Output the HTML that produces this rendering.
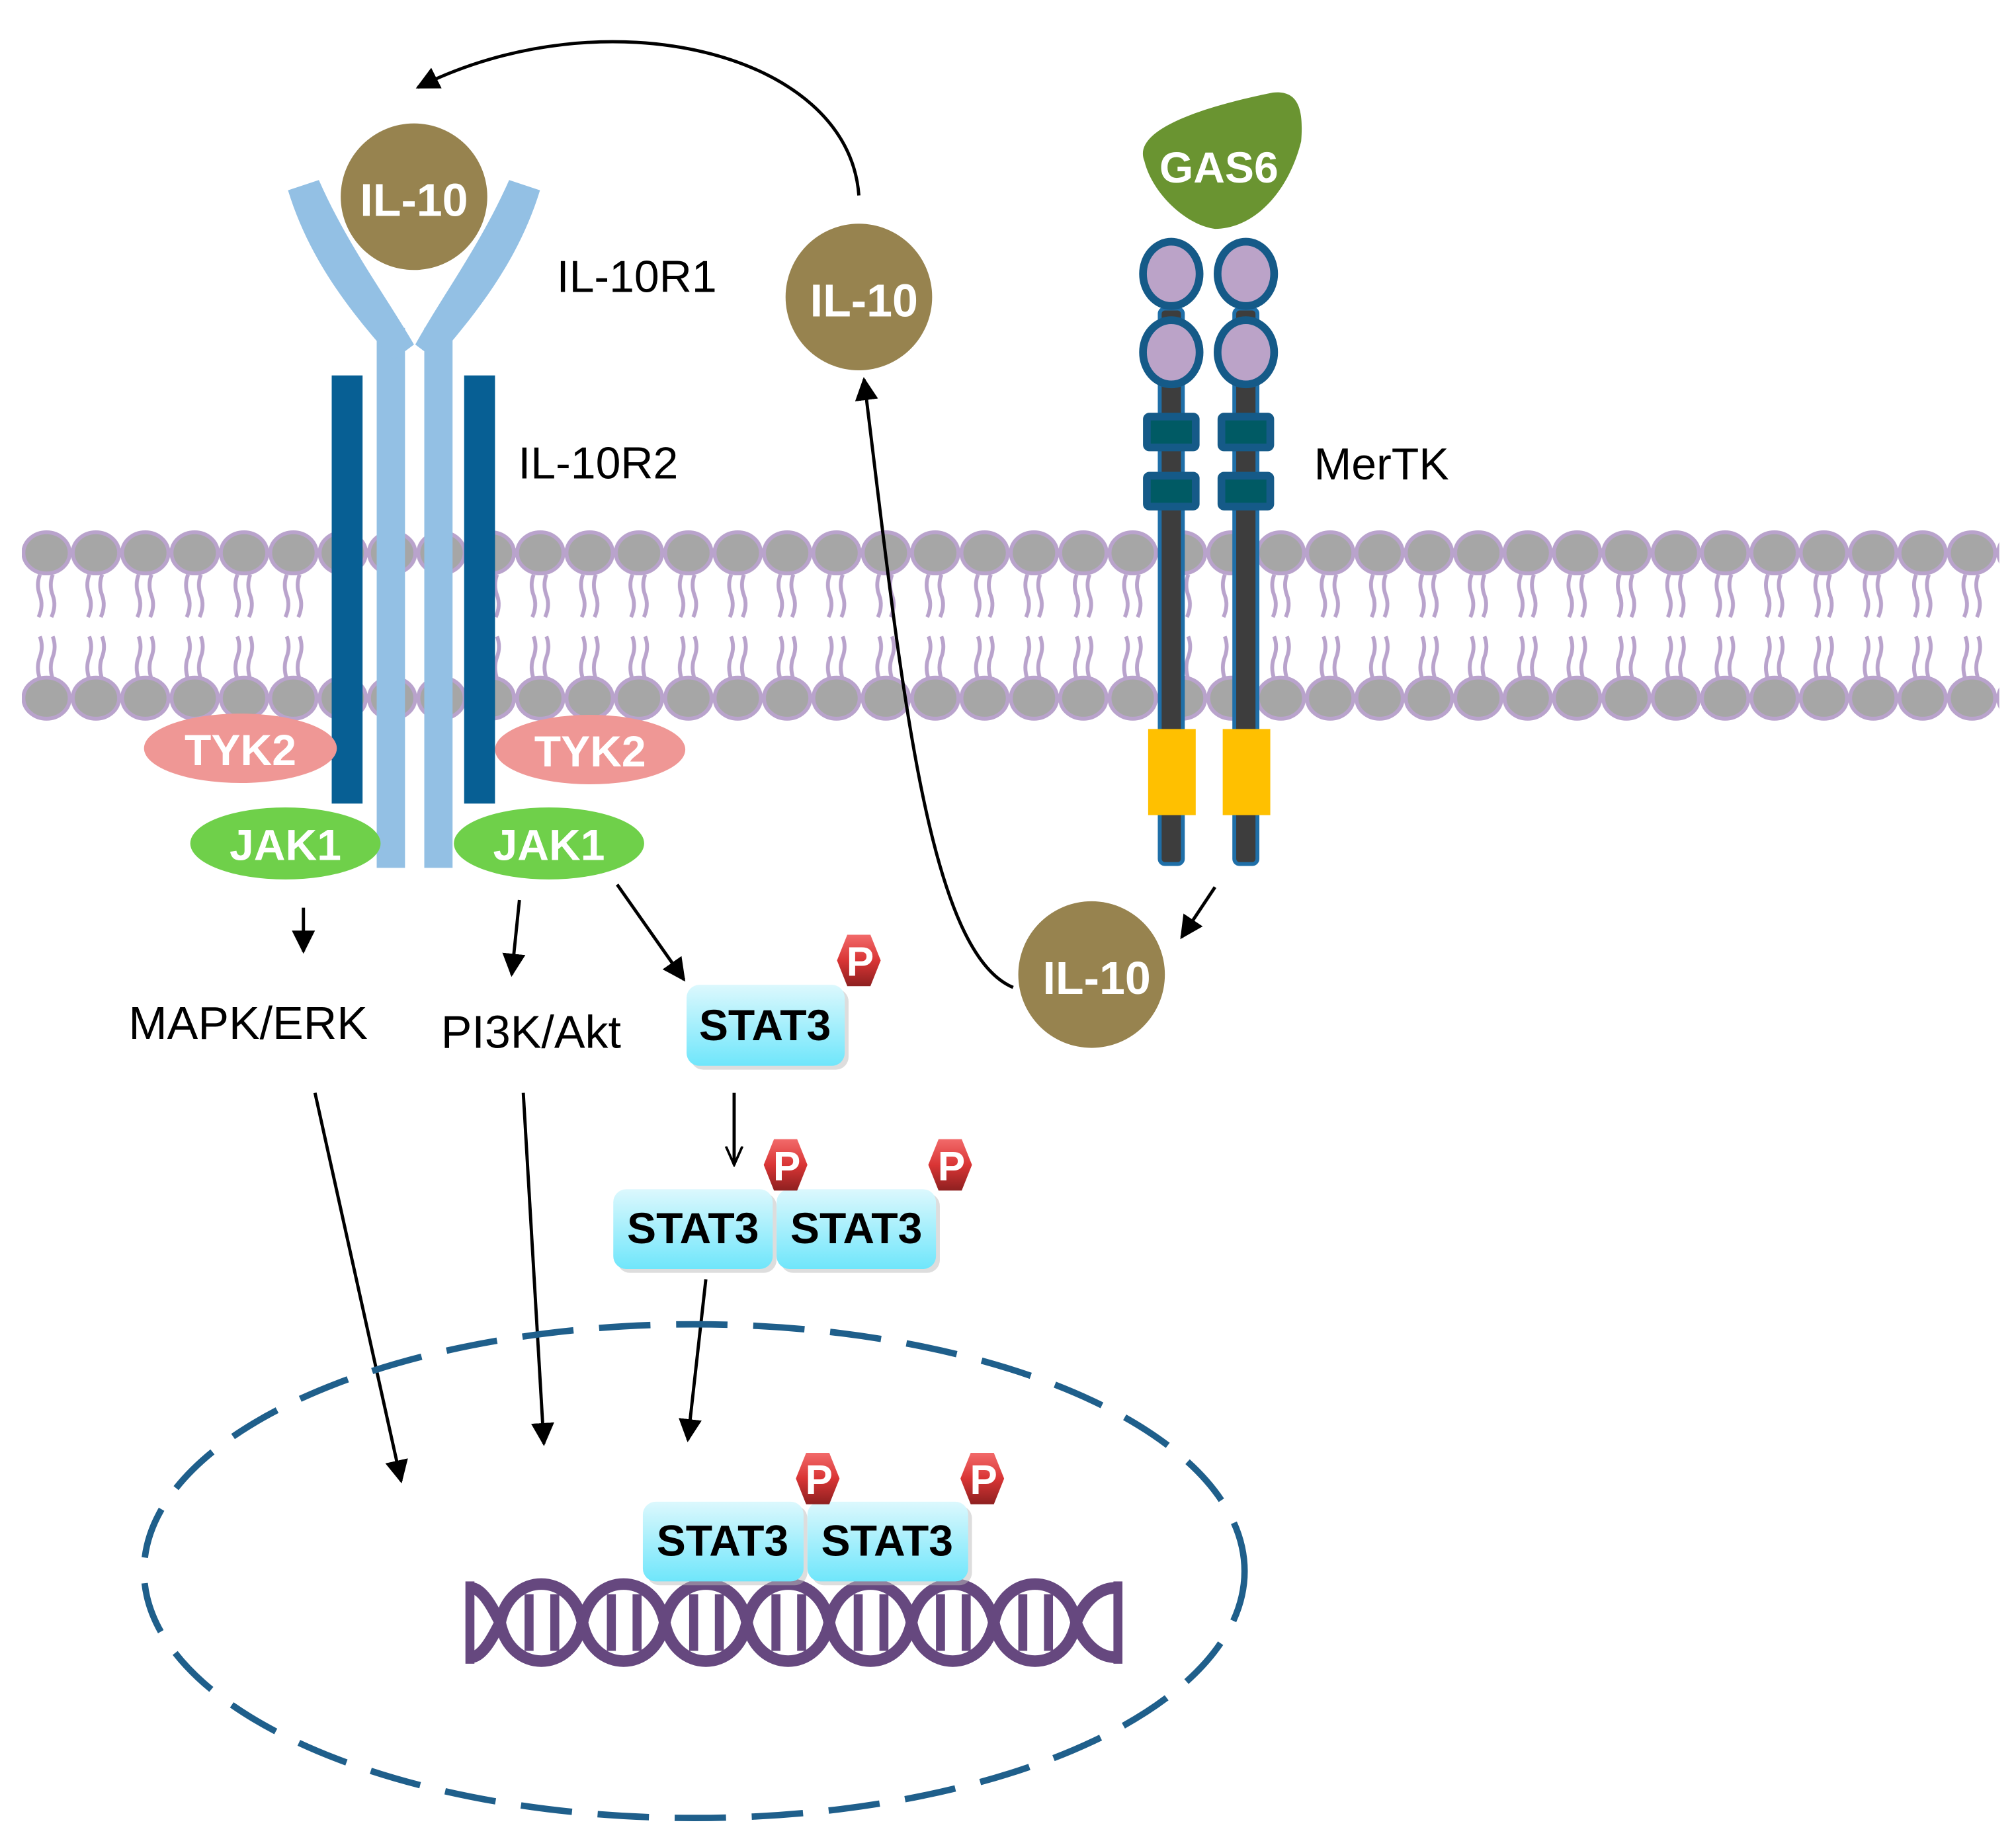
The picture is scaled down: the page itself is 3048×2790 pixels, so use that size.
<!DOCTYPE html>
<html><head><meta charset="utf-8"><style>html,body{margin:0;padding:0;background:#fff}svg{display:block}</style></head>
<body>
<svg width="3048" height="2790" viewBox="0 0 1568 1435" preserveAspectRatio="none" xmlns="http://www.w3.org/2000/svg" font-family="'Liberation Sans', sans-serif">
<defs>
<pattern id="lip" patternUnits="userSpaceOnUse" x="17" y="0" width="38.4" height="1435">
<g stroke="#b9a3cc" stroke-width="3" fill="none">
<path d="M14,447 q-3,8 0,16 q3,8 -1,17"/><path d="M24,447 q-3,8 0,16 q3,8 -1,17"/>
<path d="M14,495 q3,8 0,16 q-3,8 0,17"/><path d="M24,495 q3,8 0,16 q-3,8 0,17"/>
</g>
<ellipse cx="19.2" cy="430" rx="18" ry="16" fill="#a6a6a6" stroke="#b9a3cc" stroke-width="3"/>
<ellipse cx="19.2" cy="543" rx="18" ry="16" fill="#a6a6a6" stroke="#b9a3cc" stroke-width="3"/>
</pattern>
<linearGradient id="cy" x1="0" y1="0" x2="0" y2="1"><stop offset="0" stop-color="#dcf8fd"/><stop offset="1" stop-color="#6fe6fb"/></linearGradient>
<linearGradient id="pr" x1="0" y1="0" x2="0" y2="1"><stop offset="0" stop-color="#f26a6a"/><stop offset="0.5" stop-color="#d93535"/><stop offset="1" stop-color="#8e2020"/></linearGradient>
<marker id="ab" viewBox="0 0 10 10" markerWidth="18" markerHeight="18" refX="9" refY="5" orient="auto" markerUnits="userSpaceOnUse"><path d="M0,0 L10,5 L0,10 z" fill="#000"/></marker>
<marker id="ao" viewBox="0 0 10 10" markerWidth="16" markerHeight="16" refX="9" refY="5" orient="auto" markerUnits="userSpaceOnUse"><path d="M0,1 L9,5 L0,9" fill="none" stroke="#000" stroke-width="1.2"/></marker>
<g id="P"><polygon points="-9,-20 9,-20 17,0 9,20 -9,20 -17,0" fill="url(#pr)"/><text x="1" y="12" font-size="32" font-weight="bold" fill="#fff" text-anchor="middle">P</text></g>
</defs>

<rect x="17" y="405" width="1538" height="165" fill="url(#lip)"/>

<rect x="258" y="292" width="24" height="333" fill="#075f94"/>
<rect x="361" y="292" width="24" height="333" fill="#075f94"/>
<g fill="#93c0e4">
<rect x="293" y="255" width="22" height="420"/>
<rect x="330" y="255" width="22" height="420"/>
<path d="M224,148 L248,140 C270,190 300,230 322,268 L306,280 C270,240 240,200 224,148 z"/>
<path d="M420,148 L396,140 C374,190 344,230 323,268 L339,280 C374,240 404,200 420,148 z"/>
</g>
<circle cx="322" cy="153" r="57" fill="#97834f"/>
<text x="322" y="168" font-size="36" font-weight="bold" fill="#fff" text-anchor="middle">IL-10</text>
<text x="433" y="227" font-size="35">IL-10R1</text>
<text x="403" y="372" font-size="35">IL-10R2</text>

<ellipse cx="187" cy="582" rx="75" ry="27" fill="#ef9795"/>
<text x="187" y="595" font-size="34" font-weight="bold" fill="#fff" text-anchor="middle">TYK2</text>
<ellipse cx="459" cy="583" rx="74" ry="27" fill="#ef9795"/>
<text x="459" y="596" font-size="34" font-weight="bold" fill="#fff" text-anchor="middle">TYK2</text>
<ellipse cx="222" cy="656" rx="74" ry="28" fill="#6fd04a"/>
<text x="222" y="669" font-size="34" font-weight="bold" fill="#fff" text-anchor="middle">JAK1</text>
<ellipse cx="427" cy="656" rx="74" ry="28" fill="#6fd04a"/>
<text x="427" y="669" font-size="34" font-weight="bold" fill="#fff" text-anchor="middle">JAK1</text>

<g>
<rect x="902" y="240" width="18" height="432" rx="4" fill="#3d3d3d" stroke="#1f6fa8" stroke-width="3"/>
<rect x="960" y="240" width="18" height="432" rx="4" fill="#3d3d3d" stroke="#1f6fa8" stroke-width="3"/>
<g fill="#bba3c8" stroke="#155a88" stroke-width="6">
<ellipse cx="911" cy="213" rx="22" ry="25"/><ellipse cx="969" cy="213" rx="22" ry="25"/>
<ellipse cx="911" cy="274" rx="22" ry="25"/><ellipse cx="969" cy="274" rx="22" ry="25"/>
</g>
<g fill="#005a64" stroke="#155a88" stroke-width="6">
<rect x="892" y="324" width="38" height="24" rx="2"/><rect x="950" y="324" width="38" height="24" rx="2"/>
<rect x="892" y="370" width="38" height="24" rx="2"/><rect x="950" y="370" width="38" height="24" rx="2"/>
</g>
<rect x="893" y="567" width="37" height="67" fill="#ffc000"/>
<rect x="951" y="567" width="37" height="67" fill="#ffc000"/>
</g>
<path d="M890,125 C880,100 940,82 990,72 C1010,70 1014,85 1012,110 C1002,150 975,178 945,178 C922,175 896,150 890,125 z" fill="#6a9431"/>
<text x="948" y="142" font-size="34" font-weight="bold" fill="#fff" text-anchor="middle">GAS6</text>
<text x="1022" y="373" font-size="35">MerTK</text>

<circle cx="668" cy="231" r="57" fill="#97834f"/>
<text x="672" y="246" font-size="36" font-weight="bold" fill="#fff" text-anchor="middle">IL-10</text>
<circle cx="849" cy="758" r="57" fill="#97834f"/>
<text x="853" y="773" font-size="36" font-weight="bold" fill="#fff" text-anchor="middle">IL-10</text>

<g stroke="#000" stroke-width="2.5" fill="none">
<path d="M668,152 C660,40 470,-5 325,68" marker-end="url(#ab)"/>
<path d="M788,768 C720,740 700,520 672,295" marker-end="url(#ab)"/>
<path d="M945,690 L919,729" marker-end="url(#ab)"/>
<path d="M236,706 L236,740" marker-end="url(#ab)"/>
<path d="M404,700 L398,758" marker-end="url(#ab)"/>
<path d="M480,688 L532,762" marker-end="url(#ab)"/>
<path d="M571,850 L571,906" marker-end="url(#ao)"/>
<path d="M245,850 L312,1152" marker-end="url(#ab)"/>
<path d="M407,850 L423,1123" marker-end="url(#ab)"/>
<path d="M549,995 L535,1120" marker-end="url(#ab)"/>
</g>
<text x="100" y="808" font-size="36">MAPK/ERK</text>
<text x="343" y="815" font-size="36">PI3K/Akt</text>

<ellipse cx="540" cy="1222" rx="428" ry="192" fill="none" stroke="#1f5f8b" stroke-width="5" stroke-dasharray="40 20"/>

<g font-size="34" font-weight="bold" text-anchor="middle">
<rect x="537" y="769" width="123" height="63" rx="10" fill="#bbb" opacity="0.5"/>
<rect x="534" y="766" width="123" height="63" rx="10" fill="url(#cy)"/>
<text x="595" y="809">STAT3</text>
<rect x="480" y="928" width="124" height="62" rx="10" fill="#bbb" opacity="0.5"/>
<rect x="477" y="925" width="124" height="62" rx="10" fill="url(#cy)"/>
<text x="539" y="967">STAT3</text>
<rect x="607" y="928" width="124" height="62" rx="10" fill="#bbb" opacity="0.5"/>
<rect x="604" y="925" width="124" height="62" rx="10" fill="url(#cy)"/>
<text x="666" y="967">STAT3</text>
</g>

<!-- DNA -->
<g stroke="#66487f" stroke-width="9" fill="none">
<path d="M366,1235 C375,1235 383,1250 389,1262 C397,1302 445,1302 453,1262 C461,1222 509,1222 517,1262 C525,1302 573,1302 581,1262 C589,1222 637,1222 645,1262 C653,1302 701,1302 709,1262 C717,1222 765,1222 773,1262 C781,1302 829,1302 837,1262 C843,1245 855,1235 868,1235"/>
<path d="M366,1289 C375,1289 383,1274 389,1262 C397,1222 445,1222 453,1262 C461,1302 509,1302 517,1262 C525,1222 573,1222 581,1262 C589,1302 637,1302 645,1262 C653,1222 701,1222 709,1262 C717,1302 765,1302 773,1262 C781,1222 829,1222 837,1262 C843,1279 855,1289 868,1289"/>
</g>
<g fill="#66487f">
<rect x="362" y="1230" width="7" height="64"/><rect x="866" y="1230" width="7" height="64"/>
<rect x="408" y="1240" width="7" height="44"/><rect x="428" y="1240" width="7" height="44"/>
<rect x="472" y="1240" width="7" height="44"/><rect x="492" y="1240" width="7" height="44"/>
<rect x="536" y="1240" width="7" height="44"/><rect x="556" y="1240" width="7" height="44"/>
<rect x="600" y="1240" width="7" height="44"/><rect x="620" y="1240" width="7" height="44"/>
<rect x="664" y="1240" width="7" height="44"/><rect x="684" y="1240" width="7" height="44"/>
<rect x="728" y="1240" width="7" height="44"/><rect x="748" y="1240" width="7" height="44"/>
<rect x="792" y="1240" width="7" height="44"/><rect x="812" y="1240" width="7" height="44"/>
</g>

<g font-size="34" font-weight="bold" text-anchor="middle">
<rect x="503" y="1171" width="125" height="62" rx="10" fill="#bbb" opacity="0.5"/>
<rect x="500" y="1168" width="125" height="62" rx="10" fill="url(#cy)"/>
<text x="562" y="1210">STAT3</text>
<rect x="631" y="1171" width="125" height="62" rx="10" fill="#bbb" opacity="0.5"/>
<rect x="628" y="1168" width="125" height="62" rx="10" fill="url(#cy)"/>
<text x="690" y="1210">STAT3</text>
</g>

<use href="#P" x="668" y="747"/>
<use href="#P" x="611" y="906"/>
<use href="#P" x="739" y="906"/>
<use href="#P" x="636" y="1150"/>
<use href="#P" x="764" y="1150"/>
</svg>
</body></html>
